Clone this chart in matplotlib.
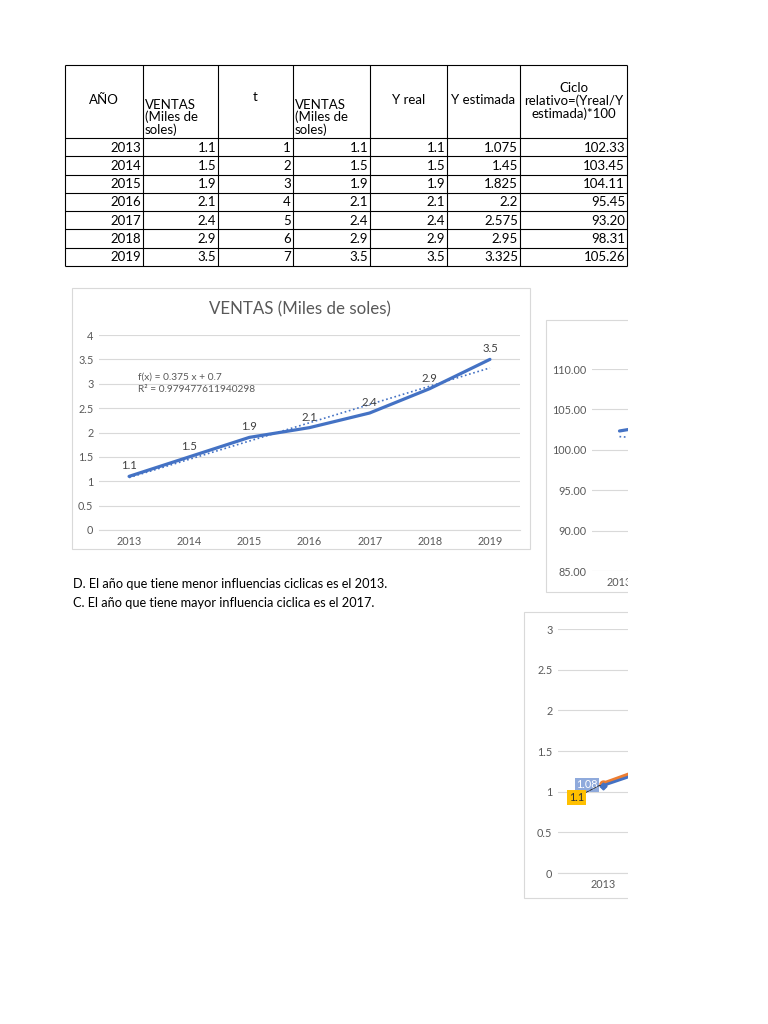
import numpy as np
import matplotlib
matplotlib.use("Agg")
import matplotlib.pyplot as plt
from matplotlib.patches import Rectangle
from decimal import Decimal, ROUND_HALF_UP

plt.rcParams['font.family'] = ['Lato', 'DejaVu Sans']

# ---------------- data ----------------
years = [2013, 2014, 2015, 2016, 2017, 2018, 2019]
ventas = [1.1, 1.5, 1.9, 2.1, 2.4, 2.9, 3.5]
t_vals = [1, 2, 3, 4, 5, 6, 7]
y_real = [1.1, 1.5, 1.9, 2.1, 2.4, 2.9, 3.5]
y_est = [1.075, 1.45, 1.825, 2.2, 2.575, 2.95, 3.325]
ciclo = [102.33, 103.45, 104.11, 95.45, 93.20, 98.31, 105.26]

header = ["AÑO", "VENTAS\n(Miles de\nsoles)", "t", "VENTAS\n(Miles de\nsoles)",
          "Y real", "Y estimada", "Ciclo\nrelativo=(Yreal/Y\nestimada)*100"]
main_title = "VENTAS (Miles de soles)"
trend_eq = "f(x) = 0.375 x + 0.7"
trend_r2 = "R² = 0.979477611940298"
notes = ["D. El año que tiene menor influencias ciclicas es el 2013.",
         "C. El año que tiene mayor influencia ciclica es el 2017."]
main_yticks = [0, 0.5, 1, 1.5, 2, 2.5, 3, 3.5, 4]
ciclo_yticks = [85, 90, 95, 100, 105, 110]
third_yticks = [0, 0.5, 1, 1.5, 2, 2.5, 3]

# ---------------- layout helpers ----------------
W, H = 768, 1024
fig = plt.figure(figsize=(W / 100, H / 100), dpi=100)


def rect(l, t, r, b):
    return [l / W, 1 - b / H, (r - l) / W, (b - t) / H]


def fmt(v):
    return f"{v:g}"


def r2(v):
    return str(Decimal(str(v)).quantize(Decimal("0.01"), rounding=ROUND_HALF_UP))


GRID = '#D9D9D9'
TXT = '#595959'
BLUE = '#4472C4'
ORANGE = '#ED7D31'
CROP = 640  # right edge of drawn (cropped) charts, hidden beyond 627 by the page crop

bg = fig.add_axes([0, 0, 1, 1])
bg.set_xlim(0, W)
bg.set_ylim(H, 0)
bg.axis('off')

# ---------------- table ----------------
col_edges = [65, 143, 218, 293, 370, 447, 520, 627]
row_edges = [65, 138] + [138 + (266 - 138) * (i + 1) / 7 for i in range(7)]
tab_fs = 9.5
bg.hlines(row_edges, col_edges[0], col_edges[-1], color='black', lw=0.8)
bg.vlines(col_edges, row_edges[0], row_edges[-1], color='black', lw=0.8)

for j, h in enumerate(header):
    l, r = col_edges[j], col_edges[j + 1]
    c = (l + r) / 2
    if h.startswith("VENTAS"):
        bg.text(l + 2, 136, h, ha='left', va='bottom', fontsize=tab_fs, linespacing=1.0)
    elif h == "t":
        bg.text(c, 97, h, ha='center', va='center', fontsize=tab_fs)
    elif h.startswith("Ciclo"):
        bg.text(c, 101, h, ha='center', va='center', fontsize=tab_fs, linespacing=1.05)
    else:
        bg.text(c, 100, h, ha='center', va='center', fontsize=tab_fs)

for i in range(len(years)):
    cells = [str(years[i]), fmt(ventas[i]), str(t_vals[i]), fmt(ventas[i]),
             fmt(y_real[i]), fmt(y_est[i]), f"{ciclo[i]:.2f}"]
    yc = (row_edges[i + 1] + row_edges[i + 2]) / 2 + 0.5
    for j, s in enumerate(cells):
        bg.text(col_edges[j + 1] - 2, yc, s, ha='right', va='center', fontsize=tab_fs)

# ---------------- main chart ----------------
bg.add_patch(Rectangle((72, 288), 530 - 72, 549 - 288, fill=False, ec=GRID, lw=0.8))
bg.text(300, 309, main_title, ha='center', va='center', fontsize=12.2, color=TXT)

ax1 = fig.add_axes(rect(99, 335, 520, 530))
x = np.arange(len(years))
ax1.plot(x, ventas, color=BLUE, lw=2.3, solid_capstyle='round', zorder=3)
coef = np.polyfit(t_vals, ventas, 1)
ax1.plot(x, np.polyval(coef, t_vals), color=BLUE, lw=1.2, ls=(0, (1, 1.6)), zorder=3)
for i, v in enumerate(ventas):
    ax1.annotate(fmt(v), (i, v), xytext=(0, 7.5), textcoords='offset points',
                 ha='center', va='center', fontsize=8.2, color='#404040', zorder=4)
ax1.text(0.093, 0.785, trend_eq, transform=ax1.transAxes, fontsize=7.3, color=TXT, va='center')
ax1.text(0.093, 0.723, trend_r2, transform=ax1.transAxes, fontsize=7.3, color=TXT, va='center')
ax1.set_xlim(-0.5, len(years) - 0.5)
ax1.set_ylim(main_yticks[0], main_yticks[-1])
ax1.set_yticks(main_yticks)
ax1.set_yticklabels([fmt(v) for v in main_yticks])
ax1.set_xticks(x)
ax1.set_xticklabels([str(y) for y in years])
ax1.yaxis.grid(True, color=GRID, lw=0.8)
ax1.set_axisbelow(True)
for s in ['top', 'right', 'left']:
    ax1.spines[s].set_visible(False)
ax1.spines['bottom'].set_color(GRID)
ax1.tick_params(length=0, labelcolor=TXT, labelsize=7.8, pad=4)
ax1.patch.set_alpha(0)

# ---------------- second chart (ciclo, cropped) ----------------
bg.add_patch(Rectangle((546, 320), CROP + 5 - 546, 592 - 320, fill=False, ec=GRID, lw=0.8))
step2 = 55
ax2 = fig.add_axes(rect(592, 369, CROP, 571))
ax2.plot(x, ciclo, color=BLUE, lw=2.3, solid_capstyle='round', zorder=3)
coef2 = np.polyfit(t_vals, ciclo, 1)
ax2.plot(x, np.polyval(coef2, t_vals), color=BLUE, lw=1.2, ls=(0, (1, 1.6)), zorder=3)
ax2.set_xlim(-0.5, -0.5 + (CROP - 592) / step2)
ax2.set_ylim(ciclo_yticks[0], ciclo_yticks[-1])
ax2.set_yticks(ciclo_yticks)
ax2.set_yticklabels([f"{v:.2f}" for v in ciclo_yticks])
ax2.set_xticks(x[:1])
ax2.set_xticklabels([str(y) for y in years[:1]])
ax2.yaxis.grid(True, color=GRID, lw=0.8)
ax2.set_axisbelow(True)
for s in ['top', 'right', 'left', 'bottom']:
    ax2.spines[s].set_visible(False)
ax2.tick_params(length=0, labelcolor=TXT, labelsize=7.8, pad=4)
ax2.patch.set_alpha(0)

# ---------------- third chart (real vs estimada, cropped) ----------------
bg.add_patch(Rectangle((524, 612), CROP + 5 - 524, 898 - 612, fill=False, ec=GRID, lw=0.8))
step3 = 90
ax3 = fig.add_axes(rect(558, 629, CROP, 873))
ax3.plot(x, y_real, color=ORANGE, lw=2.6, marker='o', ms=5, zorder=3)
ax3.plot(x, y_est, color=BLUE, lw=2.0, marker='D', ms=3.5, zorder=4)
ax3.annotate(r2(y_est[0]), (0, y_est[0]), xytext=(-11.5, 0.5), textcoords='offset points',
             ha='center', va='center', fontsize=7.8, color='white', zorder=5,
             bbox=dict(boxstyle='square,pad=0.15', fc='#8FAADC', ec='none'),
             arrowprops=dict(arrowstyle='-', color='#222222', lw=0.6, ls='--',
                             shrinkA=0, shrinkB=2))
ax3.annotate(fmt(y_real[0]), (0, y_real[0]), xytext=(-19, -10), textcoords='offset points',
             ha='center', va='center', fontsize=7.8, color='#333333', zorder=5,
             bbox=dict(boxstyle='square,pad=0.15', fc='#FFC000', ec='none'),
             arrowprops=dict(arrowstyle='-', color='#222222', lw=0.6, ls='--',
                             shrinkA=0, shrinkB=3))
ax3.set_xlim(-0.5, -0.5 + (CROP - 558) / step3)
ax3.set_ylim(third_yticks[0], third_yticks[-1])
ax3.set_yticks(third_yticks)
ax3.set_yticklabels([fmt(v) for v in third_yticks])
ax3.set_xticks(x[:1])
ax3.set_xticklabels([str(y) for y in years[:1]])
ax3.yaxis.grid(True, color=GRID, lw=0.8)
ax3.set_axisbelow(True)
for s in ['top', 'right', 'left']:
    ax3.spines[s].set_visible(False)
ax3.spines['bottom'].set_color(GRID)
ax3.tick_params(length=0, labelcolor=TXT, labelsize=7.8, pad=4)
ax3.patch.set_alpha(0)

# ---------------- notes ----------------
bg.text(73, 584, notes[0], ha='left', va='center', fontsize=9.2, color='black')
bg.text(73, 603, notes[1], ha='left', va='center', fontsize=9.2, color='black')

# page crop on the right side
fig.add_artist(Rectangle((627.5 / W, 0), 1, (H - 300) / H, transform=fig.transFigure,
                         fc='white', ec='none', zorder=50))

fig.savefig("out.png", dpi=100, facecolor='white')
